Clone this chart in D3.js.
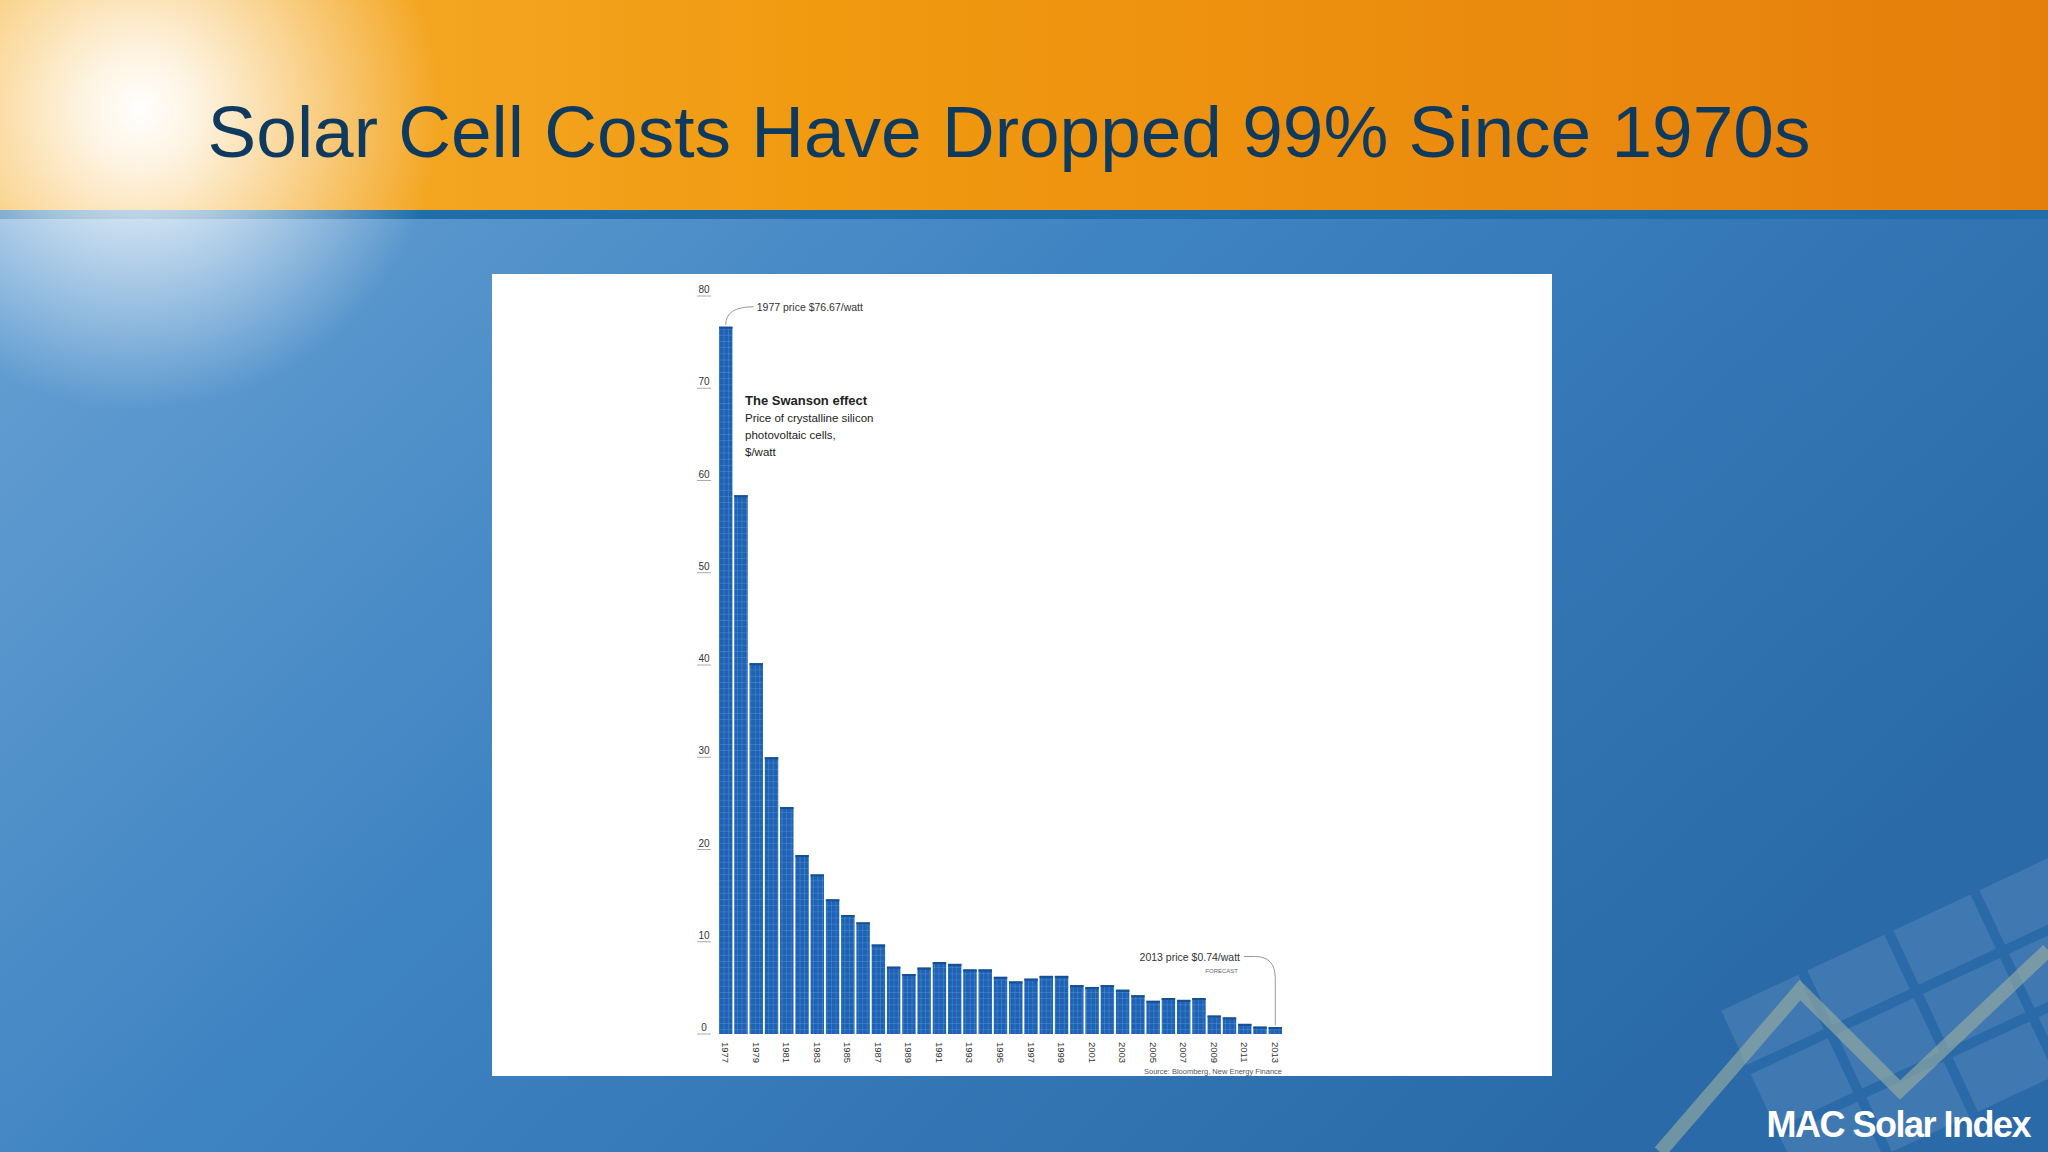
<!DOCTYPE html>
<html><head><meta charset="utf-8">
<script src="https://cdn.jsdelivr.net/npm/d3@7"></script>
<style>body{margin:0;overflow:hidden}svg{display:block}</style>
</head><body>
<svg id="slide" width="2048" height="1152"></svg>
<script>
// Chart data
const years = d3.range(1977, 2014);
const prices = [76.67, 58.4, 40.2, 30.0, 24.6, 19.4, 17.3, 14.6, 12.9, 12.1, 9.7, 7.3, 6.5, 7.2, 7.8, 7.6, 7.0, 7.0,
  6.2, 5.7, 6.0, 6.3, 6.3, 5.3, 5.1, 5.3, 4.8, 4.2, 3.6, 3.9, 3.7, 3.9, 2.0, 1.8, 1.1, 0.8, 0.74];
const yTicks = [0, 10, 20, 30, 40, 50, 60, 70, 80];
const title = "Solar Cell Costs Have Dropped 99% Since 1970s";

const svg = d3.select("#slide");
const defs = svg.append("defs");

// ------ Background ------- //
const bg = defs.append("linearGradient").attr("id", "bg").attr("x1", 0).attr("y1", 0).attr("x2", 1).attr("y2", 0.6);
bg.append("stop").attr("offset", 0).attr("stop-color", "#6fa6d6");
bg.append("stop").attr("offset", 0.5).attr("stop-color", "#3e83c2");
bg.append("stop").attr("offset", 1).attr("stop-color", "#2a6aa8");
svg.append("rect").attr("width", 2048).attr("height", 1152).attr("fill", "url(#bg)");

const head = defs.append("linearGradient").attr("id", "head");
head.append("stop").attr("offset", 0).attr("stop-color", "#f6b234");
head.append("stop").attr("offset", 0.4).attr("stop-color", "#f19a10");
head.append("stop").attr("offset", 1).attr("stop-color", "#e57f0c");
svg.append("rect").attr("width", 2048).attr("height", 212).attr("fill", "url(#head)");
svg.append("rect").attr("y", 210).attr("width", 2048).attr("height", 9).attr("fill", "#1f6eaa");

const sun = defs.append("radialGradient").attr("id", "sun");
sun.append("stop").attr("offset", 0).attr("stop-color", "#fff").attr("stop-opacity", 1);
sun.append("stop").attr("offset", 0.2).attr("stop-color", "#fff").attr("stop-opacity", 0.85);
sun.append("stop").attr("offset", 1).attr("stop-color", "#fff").attr("stop-opacity", 0);
svg.append("circle").attr("cx", 140).attr("cy", 110).attr("r", 300).attr("fill", "url(#sun)");

// decorative tiles bottom right
const tiles = svg.append("g").attr("transform", "translate(1830,960) rotate(-25)").attr("opacity", 0.1);
for (let r = 0; r < 3; r++) for (let c = 0; c < 4; c++)
  tiles.append("rect").attr("x", c * 95 - 120).attr("y", r * 70).attr("width", 85).attr("height", 60).attr("fill", "#fff");
svg.append("path").attr("d", "M1660,1152 L1800,990 L1900,1090 L2048,950")
  .attr("fill", "none").attr("stroke", "#9fb0a0").attr("stroke-width", 14).attr("opacity", 0.6);
svg.append("text").attr("x", 2030).attr("y", 1137).attr("text-anchor", "end")
  .attr("font-family", "Liberation Sans, Arial").attr("font-weight", "bold").attr("font-size", 36)
  .attr("fill", "#fff").attr("letter-spacing", -1.5).text("MAC Solar Index");

svg.append("text").attr("x", 1009).attr("y", 157).attr("text-anchor", "middle")
  .attr("font-family", "Liberation Sans, Arial").attr("font-size", 73).attr("fill", "#0e3a5f").text(title);

// ------ Chart panel ------- //
svg.append("rect").attr("x", 492).attr("y", 274).attr("width", 1060).attr("height", 802).attr("fill", "#fff");

const x = d3.scaleBand().domain(years).range([719, 1282]).paddingInner(0.12);
const y = d3.scaleLinear().domain([0, 80]).range([1034, 296]);

const pat = defs.append("pattern").attr("id", "cells").attr("patternUnits", "userSpaceOnUse")
  .attr("width", x.bandwidth() / 3).attr("height", 6.2).attr("x", 719);
pat.append("rect").attr("width", x.bandwidth() / 3).attr("height", 6.2).attr("fill", "#1d62b4");
pat.append("path").attr("d", `M0,0H${x.bandwidth() / 3}M0,0V6.2`).attr("stroke", "#5d95d2").attr("stroke-width", 0.8);

const chart = svg.append("g");
chart.selectAll("rect.bar").data(years).join("rect").attr("class", "bar")
  .attr("x", d => x(d)).attr("width", x.bandwidth())
  .attr("y", (d, i) => y(prices[i])).attr("height", (d, i) => y(0) - y(prices[i]))
  .attr("fill", "url(#cells)");
chart.selectAll("rect.cap").data(years).join("rect").attr("class", "cap")
  .attr("x", d => x(d)).attr("width", x.bandwidth())
  .attr("y", (d, i) => y(prices[i])).attr("height", 2).attr("fill", "#154f96");

const font = "Liberation Sans Narrow, Liberation Sans, Arial";
const yAxis = chart.append("g");
yAxis.selectAll("text").data(yTicks).join("text")
  .attr("x", 704).attr("y", d => y(d) - 3).attr("text-anchor", "middle")
  .attr("font-family", font).attr("font-size", 10).attr("fill", "#333").text(d => d);
yAxis.selectAll("line").data(yTicks).join("line")
  .attr("x1", 697).attr("x2", 711).attr("y1", d => y(d)).attr("y2", d => y(d))
  .attr("stroke", "#aaa").attr("stroke-width", 1);

chart.selectAll("text.yr").data(years.filter(d => d % 2 === 1)).join("text").attr("class", "yr")
  .attr("transform", d => `translate(${x(d) + x.bandwidth() / 2 - 3.5},${y(0) + 8}) rotate(90)`)
  .attr("font-family", font).attr("font-size", 9.5).attr("fill", "#333").text(d => d);

// annotations
const first = prices[0], last = prices[prices.length - 1];
const fx = x(1977) + x.bandwidth() / 2;
chart.append("path").attr("d", `M${fx},${y(first) - 2} Q${fx},${y(first) - 20} ${fx + 28},${y(first) - 20}`)
  .attr("fill", "none").attr("stroke", "#999");
chart.append("text").attr("x", fx + 31).attr("y", y(first) - 16).attr("font-family", font).attr("font-size", 10.5)
  .attr("fill", "#333").text(`1977 price $${first}/watt`);
const lx = x(2013) + x.bandwidth() / 2;
chart.append("path").attr("d", `M1244,${y(8.4)} L${lx - 20},${y(8.4)} Q${lx},${y(8.4)} ${lx},${y(6)} L${lx},${y(last) - 2}`)
  .attr("fill", "none").attr("stroke", "#999");
chart.append("text").attr("x", 1240).attr("y", y(8.4) + 4).attr("text-anchor", "end").attr("font-family", font)
  .attr("font-size", 10.5).attr("fill", "#333").text(`2013 price $${last}/watt`);
chart.append("text").attr("x", 1238).attr("y", y(8.4) + 16).attr("text-anchor", "end").attr("font-family", font)
  .attr("font-size", 6).attr("fill", "#666").text("FORECAST");

const sw = chart.append("text").attr("x", 745).attr("font-family", font).attr("fill", "#222");
sw.append("tspan").attr("x", 745).attr("y", 405).attr("font-weight", "bold").attr("font-size", 13).text("The Swanson effect");
["Price of crystalline silicon", "photovoltaic cells,", "$/watt"].forEach((t, i) =>
  sw.append("tspan").attr("x", 745).attr("y", 422 + i * 17).attr("font-size", 11.5).text(t));

chart.append("text").attr("x", 1282).attr("y", 1074).attr("text-anchor", "end").attr("font-family", font)
  .attr("font-size", 7.5).attr("fill", "#555").text("Source: Bloomberg, New Energy Finance");
</script>
</body></html>
